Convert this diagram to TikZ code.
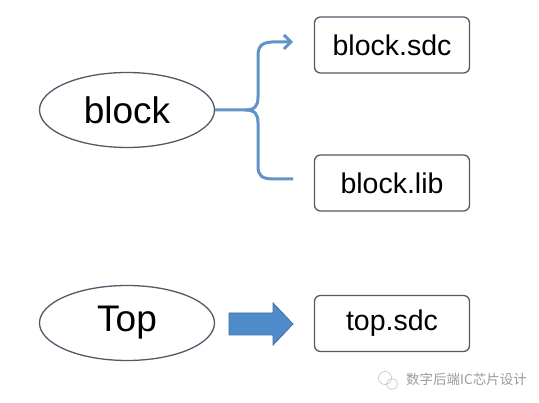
\documentclass[tikz,border=0pt]{standalone}
\usepackage{fontspec}
\setmainfont{Liberation Sans}
\newfontfamily\cjk{Noto Sans CJK SC}
\usetikzlibrary{arrows.meta,shapes.geometric}
\definecolor{edgegray}{HTML}{4F5B68}
\definecolor{bracecol}{HTML}{6293C6}
\definecolor{arrfill}{HTML}{4F8BCB}
\definecolor{arrdraw}{HTML}{3F6FA5}
\definecolor{wmgray}{HTML}{9A9A9A}
\tikzset{
  oval/.style={draw=edgegray, line width=1.3pt, ellipse, minimum width=175pt, minimum height=75pt, inner sep=0pt, font=\fontsize{37}{40}\selectfont},
  filebox/.style={draw=edgegray, line width=1.3pt, rounded corners=6pt, minimum width=155pt, minimum height=56pt, inner sep=0pt, font=\fontsize{28.5}{30}\selectfont},
  bracel/.style={draw=bracecol, line width=3pt},
}
\begin{document}
\begin{tikzpicture}[x=1pt,y=-1pt]
\useasboundingbox (0,0) rectangle (539,403);
\node[oval] (block) at (127,110) {block};
\node[oval] (top) at (127,323) {Top};
\node[filebox] (sdc) at (392,45) {block.sdc};
\node[filebox] (lib) at (392,183) {block.lib};
\node[filebox] (tsdc) at (392,323.5) {top.sdc};
\coordinate (cusp) at (245,110);
\coordinate (upend) at (293,42);
\coordinate (lowend) at (293,179);
\draw[bracel, -{Straight Barb[length=7pt,width=14pt]}] (block.east) -- (cusp) .. controls (255,110) and (258,106) .. (258,97) -- (258,56) .. controls (258,46) and (262,42.5) .. (272,42) -- (upend);
\draw[bracel] (cusp) .. controls (255,110) and (258,114) .. (258,123) -- (258,166) .. controls (258,176) and (262,178.5) .. (272,179) -- (lowend);
\draw[draw=arrdraw, fill=arrfill, line width=0.8pt] (229,313) -- (273,313) -- (273,303) -- (293,324) -- (273,345) -- (273,335) -- (229,335) -- cycle;
\draw[wmgray!60, line width=0.6pt] (385,378) circle (6.5pt);
\draw[wmgray!60, line width=0.6pt] (392,384) circle (5.5pt);
\node[text=wmgray, anchor=west, inner sep=0pt, font=\cjk\fontsize{13.5}{15}\selectfont] (wm) at (406,379) {数字后端IC芯片设计};
\end{tikzpicture}
\end{document}
